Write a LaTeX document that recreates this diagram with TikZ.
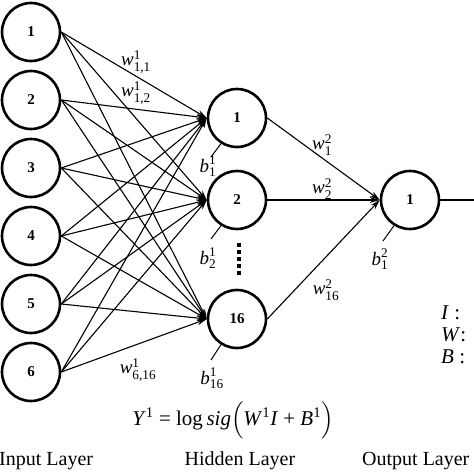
\documentclass[tikz,border=0pt]{standalone}
\usepackage{amsmath}
\usepackage{fontspec}
\setmainfont{Liberation Serif}
\usetikzlibrary{arrows.meta}
\newcommand{\myv}[3]{$\text{\itshape #1}^{\text{#2}}_{\text{#3}}$}
\begin{document}
\begin{tikzpicture}[x=1pt,y=-1pt,
  neuron/.style={circle,draw,line width=2.6pt,minimum size=58pt,inner sep=0pt,font=\bfseries\fontsize{15}{15}\selectfont},
  conn/.style={line width=1.1pt,-{Stealth[length=10pt,width=6pt]}},
  lbl/.style={inner sep=0pt,font=\fontsize{19}{19}\selectfont},
  eqlbl/.style={inner sep=0pt,font=\fontsize{21}{21}\selectfont},
  leglbl/.style={inner sep=0pt,font=\fontsize{21}{21}\selectfont},
  layerlbl/.style={inner sep=0pt,font=\fontsize{20}{20}\selectfont},
  biastick/.style={line width=1pt},
  dotsq/.style={fill=black,minimum size=3.5pt,inner sep=0pt,rectangle}]
\useasboundingbox (0,0) rectangle (474,474);
\clip (0,0) rectangle (474,474);
% input layer
\foreach \i/\y in {1/32,2/100,3/168,4/236,5/304,6/372}
  \node[neuron] (in\i) at (31,\y) {\i};
% hidden layer
\node[neuron] (h1) at (237,118) {1};
\node[neuron] (h2) at (237,200) {2};
\node[neuron] (h16) at (237,319) {16};
% output
\node[neuron] (o1) at (410,200) {1};
% connectors input -> hidden
\foreach \i in {1,...,6}
  \foreach \j in {1,2,16}
    \draw[conn] (in\i.east) -- (h\j.west);
% hidden -> output
\foreach \j in {1,2,16}
  \draw[conn] (h\j.east) -- (o1.west);
% output line
\coordinate (oend) at (474,200);
\draw[line width=2.6pt] (o1.east) -- (oend);
% dots
\foreach \k in {0,...,4}
  \node[dotsq] (dot\k) at (239,245+7*\k) {};
% bias ticks
\coordinate (t1) at (211,157);
\coordinate (t2) at (211,239);
\coordinate (t16) at (211,360);
\coordinate (to) at (383,241);
\draw[biastick] (h1.-122) -- (t1);
\draw[biastick] (h2.-122) -- (t2);
\draw[biastick] (h16.-122) -- (t16);
\draw[biastick] (o1.-122) -- (to);
% labels
\node[lbl] (lw11) at (136,62) {\myv{w}{1}{1,1}};
\node[lbl] (lw12) at (136,93) {\myv{w}{1}{1,2}};
\node[lbl] (lw616) at (138,370) {\myv{w}{1}{6,16}};
\node[lbl] (lb1) at (208,166) {\myv{b}{1}{1}};
\node[lbl] (lb2) at (208,258) {\myv{b}{1}{2}};
\node[lbl] (lb16) at (212,378) {\myv{b}{1}{16}};
\node[lbl] (lv1) at (322,145) {\myv{w}{2}{1}};
\node[lbl] (lv2) at (322,189) {\myv{w}{2}{2}};
\node[lbl] (lv16) at (326,290) {\myv{w}{2}{16}};
\node[lbl] (lbo) at (380,259) {\myv{b}{2}{1}};
% equation
\node[eqlbl] (eq) at (233,420) {\textit{Y}$^{\text{1}}$ = log\,\textit{sig}$\Bigl($\textit{W}$^{\text{1}}$\textit{I} + \textit{B}$^{\text{1}}\Bigr)$};
% layer labels
\node[layerlbl,anchor=west] (linput) at (-1,461) {Input Layer};
\node[layerlbl] (lhidden) at (240,461) {Hidden Layer};
\node[layerlbl,anchor=west] (loutput) at (362,461) {Output Layer};
% legend
\node[leglbl,anchor=west] (legI) at (441,313) {\textit{I} :};
\node[leglbl,anchor=west] (legW) at (441,335) {\textit{W}:};
\node[leglbl,anchor=west] (legB) at (441,357) {\textit{B} :};
\end{tikzpicture}
\end{document}
